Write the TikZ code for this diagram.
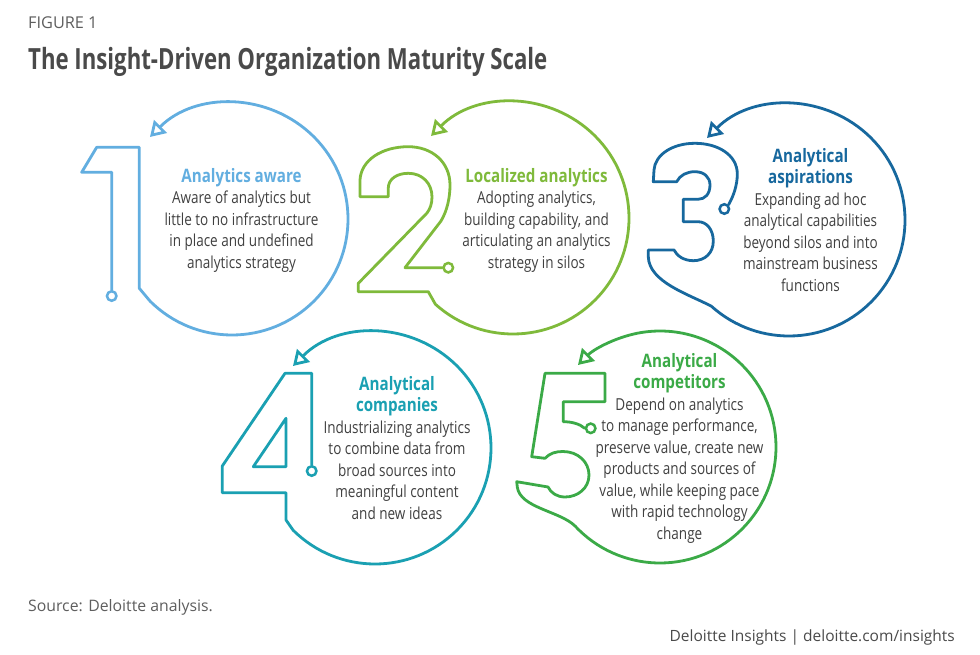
\documentclass[tikz,border=0pt]{standalone}
\usepackage{fontspec}
\setmainfont{Open Sans}
\newfontfamily\cond[FakeStretch=0.82]{Open Sans}
\newfontfamily\titlecond[FakeStretch=0.76]{Open Sans}
\usetikzlibrary{arrows.meta,calc}
\definecolor{cone}{HTML}{62AEE0}
\definecolor{ctwo}{HTML}{7FBA3B}
\definecolor{cthree}{HTML}{17689E}
\definecolor{cfour}{HTML}{1AA0B2}
\definecolor{cfive}{HTML}{3BAA47}
\definecolor{bodygray}{HTML}{404040}
\definecolor{titlegray}{HTML}{4A4A4A}
\definecolor{lightgray}{HTML}{5E5E5E}
\newcommand\hdfont{\cond\bfseries\fontsize{18.5}{21.5}\selectfont}
\tikzset{
  digit/.style={line width=2.8pt, line join=round, line cap=round, -{Triangle[open, length=15pt, width=18pt]}},
  term/.style={circle, line width=2.5pt, fill=white, minimum size=9.5pt, inner sep=0pt},
  body/.style={font=\cond\fontsize{16.5}{21.5}\selectfont, text=bodygray, align=center, inner sep=0pt},
}
\begin{document}
\begin{tikzpicture}[x=1pt, y=1pt, yscale=-1]
\fill[white] (0,0) rectangle (980,655);
\useasboundingbox (0,0) rectangle (980,655);

% header
\node[anchor=base west, inner sep=0pt, font=\fontsize{16.3}{19}\selectfont, text=lightgray] (fig) at (28,29) {FIGURE 1};
\node[anchor=base west, inner sep=0pt, font=\titlecond\bfseries\fontsize{29.2}{34}\selectfont, text=titlegray] (title) at (28,70) {The Insight-Driven Organization Maturity Scale};

% centres
\coordinate (c1) at (232,219);
\coordinate (c2) at (513,218);
\coordinate (c3) at (789,220);
\coordinate (c4) at (375,448);
\coordinate (c5) at (660,447);

% 1
\node[term, draw=cone] (k1) at (111.7,296) {};
\draw[digit, draw=cone] (k1.north) -- (111.7,172.3) -- (81.7,172.3) -- (96.7,147.3) -- (139.3,147.3) -- (139.3,288.3)
  -- ($(c1)+(135:116)$) arc[start angle=135, end angle=-135, radius=116];

% 2
\node[term, draw=ctwo] (k2) at (448.3,267.7) {};
\draw[digit, draw=ctwo] (k2.west) -- (405,267.7) -- (441,221)
  .. controls (447,211) and (450,198) .. (450,185)
  .. controls (450,162) and (432,146.7) .. (408.3,146.7)
  .. controls (382,146.7) and (361,160) .. (360,180)
  -- (360,196.7) -- (388.3,196.7) -- (388.3,188)
  .. controls (388.3,179) and (397,173.3) .. (408.3,173.3)
  .. controls (422,173.3) and (432,183) .. (432,197)
  .. controls (432,204) and (430,209) .. (427,213)
  -- (358.3,283.3) -- (358.3,291.7) -- (428.3,291.7)
  -- ($(c2)+(132:116)$) arc[start angle=132, end angle=-135, radius=116];

% 3
\node[term, draw=cthree] (k3) at (724.3,209) {};
\draw[digit, draw=cthree] (k3.north east)
  .. controls (733,197) and (737.3,186) .. (737.3,174)
  .. controls (737.3,155) and (718,143.3) .. (695,143.3)
  .. controls (672,143.3) and (655,155) .. (654,170)
  -- (653.3,181.7) -- (676.7,181.7)
  .. controls (680,175) and (687,171.7) .. (695,171.7)
  .. controls (704,171.7) and (710,177) .. (710,185)
  .. controls (710,194) and (705,199.3) .. (698,199.3)
  -- (683.3,199.3) -- (683.3,221.7) -- (698,221.7)
  .. controls (707,221.7) and (713.3,230) .. (713.3,241)
  .. controls (713.3,253) and (705,260.7) .. (693.3,260.7)
  .. controls (684,260.7) and (677,256) .. (674,250)
  -- (648.3,250) -- (648.3,256.7)
  .. controls (649,282) and (688,294) .. ($(c3)+(132:116)$)
  arc[start angle=132, end angle=-135, radius=116];

% 4
\node[term, draw=cfour] (k4) at (311.7,471) {};
\draw[digit, draw=cfour] (k4.north) -- (311.7,373.3) -- (285,373.3) -- (222.3,466) -- (222.3,492.7) -- (286,492.7) -- (286,520)
  -- ($(c4)+(135:116)$) arc[start angle=135, end angle=-135, radius=116];
\draw[line width=2.8pt, line join=round, draw=cfour] (286,418.3) -- (286,466.7) -- (253.3,466.7) -- cycle;

% 5
\node[term, draw=cfive] (k5) at (590.7,428.3) {};
\draw[digit, draw=cfive] (k5.west) .. controls (580,424) and (572,421.7) .. (563.3,421.7)
  -- (563.3,401.7) -- (605,401.7) -- (605,373.3) -- (545,373.3) -- (531.7,456.7) -- (545,458.3)
  .. controls (550,453) and (556,451.5) .. (563,451.5)
  .. controls (578,451.5) and (589,462) .. (589,475)
  .. controls (589,488) and (578,497) .. (565,497)
  .. controls (557,497) and (551,493) .. (548,487)
  -- (516.7,481.7) -- (517.3,487)
  .. controls (520,508) and (560,511) .. ($(c5)+(137:116)$)
  arc[start angle=137, end angle=-135, radius=116];

% texts
\node[body] (t1) at (241.5,220) {{\hdfont\color{cone}Analytics aware}\\Aware of analytics but\\little to no infrastructure\\in place and undefined\\analytics strategy};
\node[body] (t2) at (536.5,220) {{\hdfont\color{ctwo}Localized analytics}\\Adopting analytics,\\building capability, and\\articulating an analytics\\strategy in silos};
\node[body] (t3) at (810.5,220) {{\hdfont\color{cthree}Analytical}\\{\hdfont\color{cthree}aspirations}\\Expanding ad hoc\\analytical capabilities\\beyond silos and into\\mainstream business\\functions};
\node[body] (t4) at (397,448) {{\hdfont\color{cfour}Analytical}\\{\hdfont\color{cfour}companies}\\Industrializing analytics\\to combine data from\\broad sources into\\meaningful content\\and new ideas};
\node[body] (t5) at (679.5,448) {{\hdfont\color{cfive}Analytical}\\{\hdfont\color{cfive}competitors}\\Depend on analytics\\to manage performance,\\preserve value, create new\\products and sources of\\value, while keeping pace\\with rapid technology\\change};

% footer
\node[anchor=base west, inner sep=0pt, font=\fontsize{15.8}{18}\selectfont, text=lightgray] (src) at (28,611) {Source: Deloitte analysis.};
\node[anchor=base east, inner sep=0pt, font=\fontsize{15.5}{18}\selectfont, text=titlegray] (foot) at (955,641) {Deloitte Insights | deloitte.com/insights};
\end{tikzpicture}
\end{document}
